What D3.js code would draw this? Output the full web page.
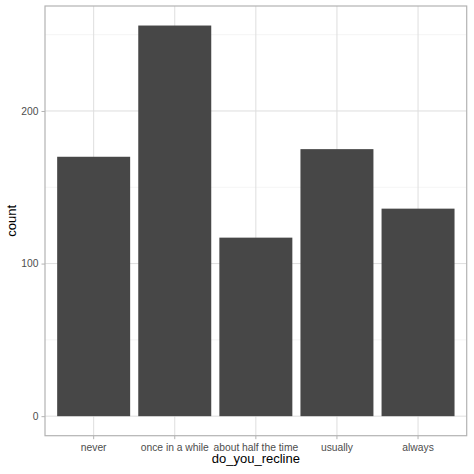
<!DOCTYPE html>
<html>
<head>
<meta charset="utf-8">
<script src="https://cdn.jsdelivr.net/npm/d3@7"></script>
<style>
  body { margin: 0; background: #fff; }
  text { font-family: "Liberation Sans", Arial, sans-serif; }
</style>
</head>
<body>
<div id="chart"></div>
<script>
// data
var categories = ['never', 'once in a while', 'about half the time', 'usually', 'always'];
var counts = [170, 256, 117, 175, 136];
var yMajor = [0, 100, 200];
var yMinor = [50, 150, 250];

var width = 474,
    height = 474,
    margin = {top: 6, right: 7.3, bottom: 38.3, left: 45};

var svg = d3.select('#chart')
    .append('svg')
    .attr('width', width)
    .attr('height', height);

var pw = width - margin.left - margin.right,
    ph = height - margin.top - margin.bottom;

var x = d3.scaleBand()
    .domain(categories)
    .range([0, pw])
    .paddingInner(0.1)
    .paddingOuter(0.15);

var yMax = d3.max(counts);
var y = d3.scaleLinear()
    .domain([-0.05 * yMax, 1.05 * yMax])
    .range([ph, 0]);

var g = svg.append('g')
    .attr('transform', `translate(${margin.left},${margin.top})`);

// minor grid
g.selectAll('.minor')
    .data(yMinor)
    .enter().append('line')
    .attr('x1', 0).attr('x2', pw)
    .attr('y1', d => y(d)).attr('y2', d => y(d))
    .style('stroke', '#EDEDED')
    .style('stroke-width', 0.6);

// major grid
g.selectAll('.hmajor')
    .data(yMajor)
    .enter().append('line')
    .attr('x1', 0).attr('x2', pw)
    .attr('y1', d => y(d)).attr('y2', d => y(d))
    .style('stroke', '#DEDEDE')
    .style('stroke-width', 1);

g.selectAll('.vmajor')
    .data(categories)
    .enter().append('line')
    .attr('x1', d => x(d) + x.bandwidth() / 2).attr('x2', d => x(d) + x.bandwidth() / 2)
    .attr('y1', 0).attr('y2', ph)
    .style('stroke', '#DEDEDE')
    .style('stroke-width', 1);

// bars
g.selectAll('.bar')
    .data(counts)
    .enter().append('rect')
    .attr('class', 'bar')
    .attr('x', (d, i) => x(categories[i]))
    .attr('y', d => y(d))
    .attr('width', x.bandwidth())
    .attr('height', d => y(0) - y(d))
    .style('fill', '#474747');

// panel border
g.append('rect')
    .attr('x', 0).attr('y', 0)
    .attr('width', pw).attr('height', ph)
    .style('fill', 'none')
    .style('stroke', '#B3B3B3')
    .style('stroke-width', 1.2);

// axes
var xAxis = d3.axisBottom(x).tickSize(3.5).tickPadding(4);
var yAxis = d3.axisLeft(y).tickValues(yMajor).tickSize(3.5).tickPadding(3);

var gx = g.append('g')
    .attr('transform', `translate(0,${ph})`)
    .call(xAxis);
var gy = g.append('g')
    .call(yAxis);

[gx, gy].forEach(function (a) {
    a.select('.domain').remove();
    a.selectAll('.tick line').style('stroke', '#B3B3B3').style('stroke-width', 1);
    a.selectAll('.tick text')
        .style('fill', '#4D4D4D')
        .style('font-size', '10.3px')
        .style('font-family', '"Liberation Sans", Arial, sans-serif');
});

// axis titles
svg.append('text')
    .attr('x', margin.left + pw / 2)
    .attr('y', 463)
    .attr('text-anchor', 'middle')
    .style('font-size', '13px')
    .style('fill', '#000')
    .text('do_you_recline');

svg.append('text')
    .attr('transform', `translate(15.5,${margin.top + ph / 2}) rotate(-90)`)
    .attr('text-anchor', 'middle')
    .style('font-size', '13px')
    .style('fill', '#000')
    .text('count');
</script>
</body>
</html>
